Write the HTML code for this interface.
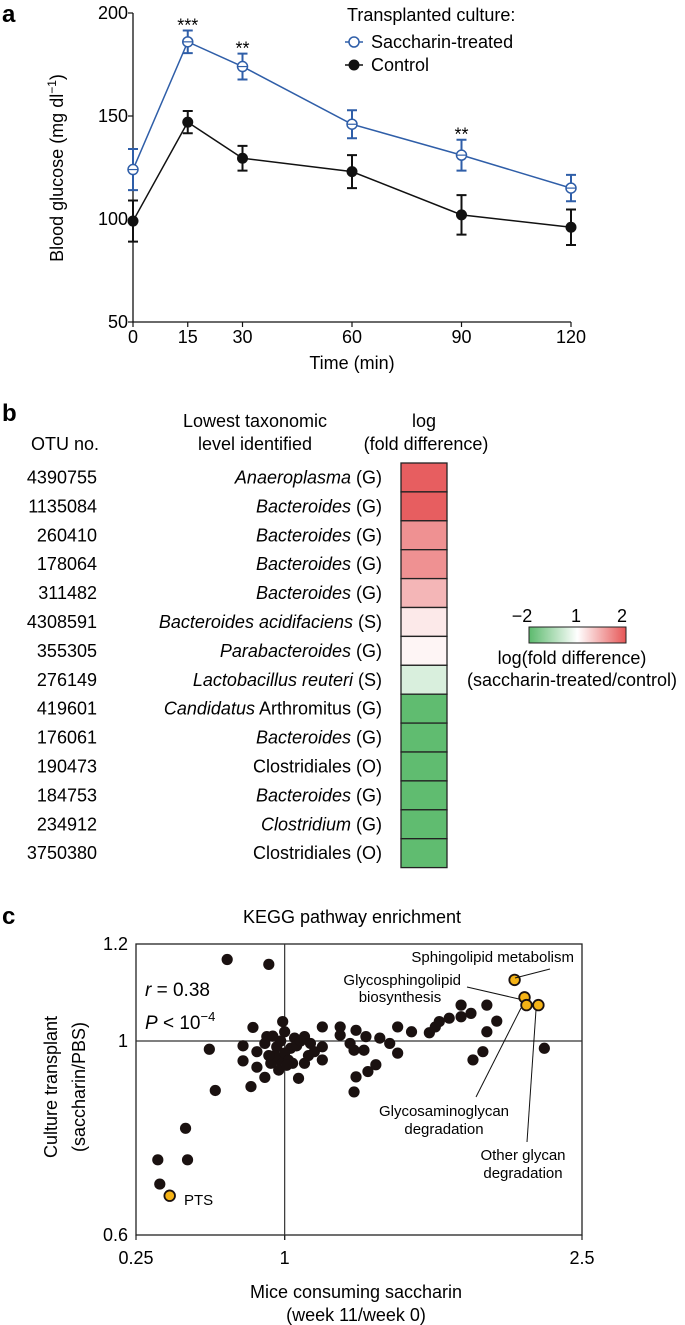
<!DOCTYPE html>
<html><head><meta charset="utf-8"><style>
html,body{margin:0;padding:0;background:#fff;}
svg{display:block;font-family:"Liberation Sans",Arial,sans-serif;}
</style></head><body>
<svg id="fig" width="685" height="1325" viewBox="0 0 685 1325" xmlns="http://www.w3.org/2000/svg">
<!-- Panel a static -->
<text x="2" y="22" font-size="24" font-weight="bold">a</text>
<g id="panelA"></g>
<text x="352" y="369" font-size="18" text-anchor="middle">Time (min)</text>
<text transform="translate(63,168) rotate(-90)" font-size="18" text-anchor="middle">Blood glucose (mg dl<tspan dy="-7" font-size="12">−1</tspan><tspan dy="7">)</tspan></text>
<g>
<text x="347" y="21" font-size="18">Transplanted culture:</text>
<g>
<line x1="345" y1="42" x2="363" y2="42" stroke="#2f5ea8" stroke-width="1.5"/>
<circle cx="354" cy="42" r="5" fill="#fff" stroke="#2f5ea8" stroke-width="1.5"/>
<text x="371" y="48" font-size="18">Saccharin-treated</text></g>
<g>
<line x1="345" y1="65" x2="363" y2="65" stroke="#111" stroke-width="1.5"/>
<circle cx="354" cy="65" r="5.5" fill="#111"/>
<text x="371" y="71" font-size="18">Control</text></g>
</g>

<!-- Panel b static -->
<text x="2" y="421" font-size="24" font-weight="bold">b</text>
<text x="65" y="450" font-size="18" text-anchor="middle">OTU no.</text>
<text x="255" y="427" font-size="18" text-anchor="middle">Lowest taxonomic</text>
<text x="255" y="450" font-size="18" text-anchor="middle">level identified</text>
<text x="424" y="427" font-size="18" text-anchor="middle">log</text>
<text x="426" y="450" font-size="18" text-anchor="middle">(fold difference)</text>
<g id="heat"></g>
<defs><linearGradient id="cbg" x1="0" x2="1" y1="0" y2="0">
<stop offset="0" stop-color="#5cba6d"/><stop offset="0.5" stop-color="#ffffff"/><stop offset="1" stop-color="#e65656"/></linearGradient></defs>
<g>
<rect x="529" y="627" width="97" height="16" fill="url(#cbg)" stroke="#222" stroke-width="1"/>
<text x="522" y="622" font-size="18" text-anchor="middle">−2</text>
<text x="576" y="622" font-size="18" text-anchor="middle">1</text>
<text x="622" y="622" font-size="18" text-anchor="middle">2</text>
<text x="572" y="664" font-size="18" text-anchor="middle">log(fold difference)</text>
<text x="572" y="686" font-size="18" text-anchor="middle">(saccharin-treated/control)</text>
</g>

<!-- Panel c static -->
<text x="2" y="924" font-size="24" font-weight="bold">c</text>
<text x="352" y="923" font-size="18" text-anchor="middle">KEGG pathway enrichment</text>
<g id="panelC"></g>
<text x="356" y="1298" font-size="18" text-anchor="middle">Mice consuming saccharin</text>
<text x="356" y="1321" font-size="18" text-anchor="middle">(week 11/week 0)</text>
<text transform="translate(57,1087) rotate(-90)" font-size="18" text-anchor="middle">Culture transplant</text>
<text transform="translate(85,1087) rotate(-90)" font-size="18" text-anchor="middle">(saccharin/PBS)</text>
<text x="145" y="996" font-size="19"><tspan font-style="italic">r</tspan> = 0.38</text>
<text x="145" y="1029" font-size="19"><tspan font-style="italic">P</tspan> &lt; 10<tspan dy="-8" font-size="13">−4</tspan></text>
<g font-size="15">
<text x="574" y="962" text-anchor="end">Sphingolipid metabolism</text>
<line x1="515" y1="978" x2="550" y2="969" stroke="#111" stroke-width="1"/>
<text x="461" y="985" text-anchor="end">Glycosphingolipid</text>
<text x="400" y="1002" text-anchor="middle">biosynthesis</text>
<line x1="467" y1="987" x2="519" y2="999" stroke="#111" stroke-width="1"/>
<text x="444" y="1116" text-anchor="middle">Glycosaminoglycan</text>
<text x="444" y="1134" text-anchor="middle">degradation</text>
<line x1="476" y1="1097" x2="521" y2="1008" stroke="#111" stroke-width="1"/>
<text x="523" y="1160" text-anchor="middle">Other glycan</text>
<text x="523" y="1178" text-anchor="middle">degradation</text>
<line x1="527" y1="1142" x2="536" y2="1010" stroke="#111" stroke-width="1"/>
<text x="184" y="1205">PTS</text>
</g>
</svg>
<script>
// ---------- Panel a data ----------
const times=[0,15,30,60,90,120];
const saccharinMean=[124,186,174,146,131,115];
const saccharinErr=[10,5.5,6.3,6.8,7.5,6.4];
const controlMean=[99,147,129.5,123,102,96];
const controlErr=[10,5.4,6,8,9.6,8.6];
const yTicksA=[50,100,150,200];
const xTicksA=[0,15,30,60,90,120];
const sigTimes=[15,30,90];
const sigLabels=['***','**','**'];

// ---------- Panel b data ----------
const otuIds=['4390755','1135084','260410','178064','311482','4308591','355305','276149','419601','176061','190473','184753','234912','3750380'];
const taxaItalic=['Anaeroplasma','Bacteroides','Bacteroides','Bacteroides','Bacteroides','Bacteroides acidifaciens','Parabacteroides','Lactobacillus reuteri','Candidatus','Bacteroides','','Bacteroides','Clostridium',''];
const taxaPlain=[' (G)',' (G)',' (G)',' (G)',' (G)',' (S)',' (G)',' (S)',' Arthromitus (G)',' (G)','Clostridiales (O)',' (G)',' (G)','Clostridiales (O)'];
const logFold=[1.9,1.9,1.3,1.3,0.86,0.26,0.12,-0.48,-2,-2,-2,-2,-2,-2];

// ---------- Panel c data ----------
const pathwayX=[0.71,0.92,0.84,0.62,0.79,0.79,0.65,0.83,0.86,0.90,0.91,0.86,0.90,0.99,1.00,0.96,0.97,0.97,1.03,1.05,1.07,1.10,1.13,1.15,1.19,1.19,1.19,1.10,1.04,0.93,1.28,1.28,1.33,1.36,1.35,1.40,1.41,1.48,1.53,1.57,1.57,1.64,1.73,1.76,1.78,1.83,1.89,1.89,1.94,2.02,2.02,2.00,1.95,2.07,2.31,1.46,1.42,1.36,1.35,0.50,0.36,0.51,0.37,0.95,1.00,1.02,0.98,1.06,1.08,0.94,1.01,0.92,1.12];
const pathwayY=[1.168,1.158,1.028,0.983,0.99,0.959,0.898,0.906,0.946,0.925,1.009,0.978,0.995,1.04,1.019,0.988,0.961,0.94,0.985,1.006,0.923,0.954,0.995,0.978,1.029,0.988,0.961,1.009,0.954,0.954,1.029,1.012,0.995,1.022,0.981,0.981,1.009,1.006,0.995,0.975,1.029,1.019,1.017,1.029,1.04,1.047,1.074,1.05,1.057,1.074,1.019,0.978,0.961,1.041,0.985,0.951,0.937,0.926,0.895,0.82,0.755,0.755,0.705,0.97,0.975,0.96,1.0,0.99,1.0,1.01,0.95,0.97,0.97];
const highlightX=[0.42,2.16,2.21,2.22,2.28];
const highlightY=[0.681,1.126,1.09,1.074,1.074];
const highlightNames=['pts','sphingolipid-metabolism','glycosphingolipid-biosynthesis','glycosaminoglycan-degradation','other-glycan-degradation'];
const xTicksC=[0.25,1,2.5];
const xTickLabelsC=['0.25','1','2.5'];
const yTicksC=[0.6,1,1.2];
const yTickLabelsC=['0.6','1','1.2'];

const NS='http://www.w3.org/2000/svg';
function mk(parent,tag,attrs){const e=document.createElementNS(NS,tag);for(const k in attrs)e.setAttribute(k,attrs[k]);parent.appendChild(e);return e;}

// ---------- draw panel a ----------
(function(){
const g=document.getElementById('panelA');
const X0=133,X1=571,Y0=322,Y1=13;
const xa=t=>X0+t/120*(X1-X0);
const ya=v=>Y0-(v-50)/150*(Y0-Y1);
let e=mk(g,'line',{x1:X0,y1:Y1,x2:X0,y2:Y0,stroke:'#111','stroke-width':1.3});


e=mk(g,'line',{x1:X0,y1:Y0,x2:X1,y2:Y0,stroke:'#111','stroke-width':1.3});


yTicksA.forEach(v=>{
 mk(g,'line',{x1:X0-5,y1:ya(v),x2:X0,y2:ya(v),stroke:'#111','stroke-width':1.2});
 const t=mk(g,'text',{x:X0-5,y:ya(v)+6,'font-size':18,'text-anchor':'end'});t.textContent=v;
 
 
});
xTicksA.forEach(v=>{
 mk(g,'line',{x1:xa(v),y1:Y0,x2:xa(v),y2:Y0+5,stroke:'#111','stroke-width':1.2});
 const t=mk(g,'text',{x:xa(v),y:Y0+21,'font-size':18,'text-anchor':'middle'});t.textContent=v;
 
 
});
function series(mean,err,color,open,name){
 const pl=mk(g,'polyline',{points:times.map((t,i)=>xa(t)+','+ya(mean[i])).join(' '),fill:'none',stroke:color,'stroke-width':1.5});
 
 
 times.forEach((t,i)=>{
  const x=xa(t),top=ya(mean[i]+err[i]),bot=ya(mean[i]-err[i]);
  const eb=mk(g,'path',{d:`M${x},${top}V${bot}M${x-5},${top}H${x+5}M${x-5},${bot}H${x+5}`,stroke:color,'stroke-width':2,fill:'none'});
  
  
  const c=mk(g,'circle',{cx:x,cy:ya(mean[i]),r:open?5:5.5,fill:open?'#fff':color,stroke:color,'stroke-width':open?1.5:0});
  
  
  if(open){mk(g,'line',{x1:x-5,y1:ya(mean[i]),x2:x+5,y2:ya(mean[i]),stroke:color,'stroke-width':1.2});}
 });
}
series(controlMean,controlErr,'#111',false,'control');
series(saccharinMean,saccharinErr,'#2f5ea8',true,'saccharin');
sigTimes.forEach((t,k)=>{
 const i=times.indexOf(t);
 const s=mk(g,'text',{x:xa(t),y:ya(saccharinMean[i]+saccharinErr[i])+1,'font-size':18,'text-anchor':'middle'});
 s.textContent=sigLabels[k];
 
 
});
})();

// ---------- draw panel b ----------
(function(){
const g=document.getElementById('heat');
const top=463,rowH=28.9,hx=401,hw=46;
function color(v){
 const t=Math.min(1,Math.abs(v)/2);
 const end=v>=0?[230,86,88]:[96,188,112];
 return 'rgb('+end.map(c=>Math.round(255+(c-255)*t)).join(',')+')';
}
logFold.forEach((v,i)=>{
 const y=top+i*rowH;
 const r=mk(g,'rect',{x:hx,y:y,width:hw,height:rowH,fill:color(v),stroke:'#222','stroke-width':1.3});
 
 
 const id=mk(g,'text',{x:97,y:y+rowH/2+6,'font-size':18,'text-anchor':'end'});
 id.textContent=otuIds[i];
 
 
 const tx=mk(g,'text',{x:382,y:y+rowH/2+6,'font-size':18,'text-anchor':'end'});
 
 
 if(taxaItalic[i]){const a=mk(tx,'tspan',{'font-style':'italic'});a.textContent=taxaItalic[i];}
 const b=mk(tx,'tspan',{});b.textContent=taxaPlain[i];
});
})();

// ---------- draw panel c ----------
(function(){
const g=document.getElementById('panelC');
const L=136,R=582,T=944,B=1235;
const xc=v=>L+(v-0.25)/2.25*(R-L);
const yc=v=>B-(v-0.6)/0.6*(B-T);
let e=mk(g,'rect',{x:L,y:T,width:R-L,height:B-T,fill:'none',stroke:'#222','stroke-width':1.3});


e=mk(g,'line',{x1:L,y1:yc(1),x2:R,y2:yc(1),stroke:'#333','stroke-width':1.2});


e=mk(g,'line',{x1:xc(1),y1:T,x2:xc(1),y2:B+5,stroke:'#333','stroke-width':1.2});


xTicksC.forEach((v,i)=>{
 mk(g,'line',{x1:xc(v),y1:B,x2:xc(v),y2:B+5,stroke:'#222','stroke-width':1.2});
 const t=mk(g,'text',{x:xc(v),y:B+29,'font-size':18,'text-anchor':'middle'});t.textContent=xTickLabelsC[i];
 
 
});
yTicksC.forEach((v,i)=>{
 const t=mk(g,'text',{x:L-8,y:yc(v)+6,'font-size':18,'text-anchor':'end'});t.textContent=yTickLabelsC[i];
 
 
});
pathwayX.forEach((x,i)=>{
 const c=mk(g,'circle',{cx:xc(x),cy:yc(pathwayY[i]),r:5.6,fill:'#1a1110'});
 
 
});
highlightX.forEach((x,i)=>{
 const c=mk(g,'circle',{cx:xc(x),cy:yc(highlightY[i]),r:5.3,fill:'#f5b316',stroke:'#1a1110','stroke-width':1.8});
 
 
});
})();
</script>
</body></html>
